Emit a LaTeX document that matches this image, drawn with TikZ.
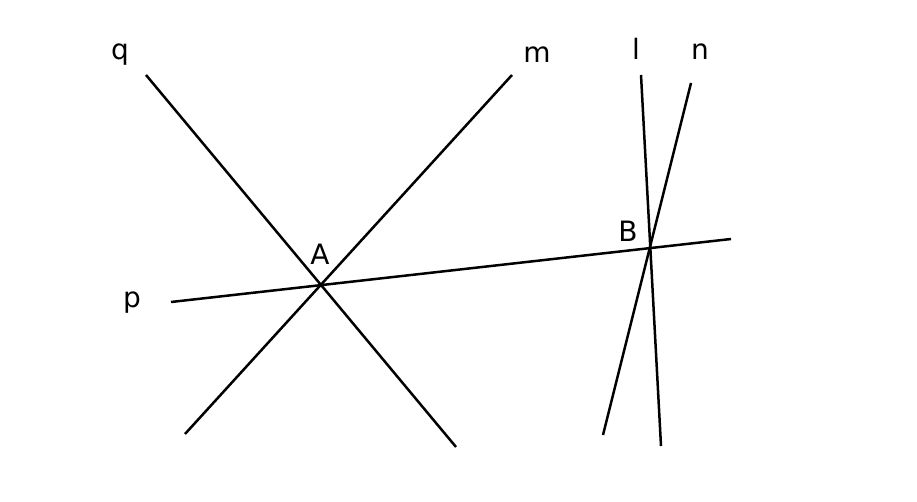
\documentclass[tikz,border=0pt]{standalone}
\usepackage{fontspec}
\setmainfont{DejaVu Sans}
\begin{document}
\begin{tikzpicture}[x=1pt,y=-1pt,line width=2.5pt,
  lab/.style={font=\fontsize{28}{30}\selectfont,inner sep=0pt}]
\useasboundingbox (0,0) rectangle (917,502);
\coordinate (q1) at (146,75); \coordinate (q2) at (456,447);
\coordinate (m1) at (512,75); \coordinate (m2) at (185,434);
\coordinate (p1) at (171,302); \coordinate (p2) at (731,239);
\coordinate (l1) at (641,75); \coordinate (l2) at (661,446);
\coordinate (n1) at (691,83); \coordinate (n2) at (603,435);
\draw (q1) -- (q2);
\draw (m1) -- (m2);
\draw (p1) -- (p2);
\draw (l1) -- (l2);
\draw (n1) -- (n2);
\node[lab] (q) at (120,55) {q};
\node[lab] (m) at (537,55) {m};
\node[lab] (l) at (636,49) {l};
\node[lab] (n) at (700,52) {n};
\node[lab] (p) at (132,303) {p};
\node[lab] (A) at (320,254) {A};
\node[lab] (B) at (628,231) {B};
\end{tikzpicture}
\end{document}
